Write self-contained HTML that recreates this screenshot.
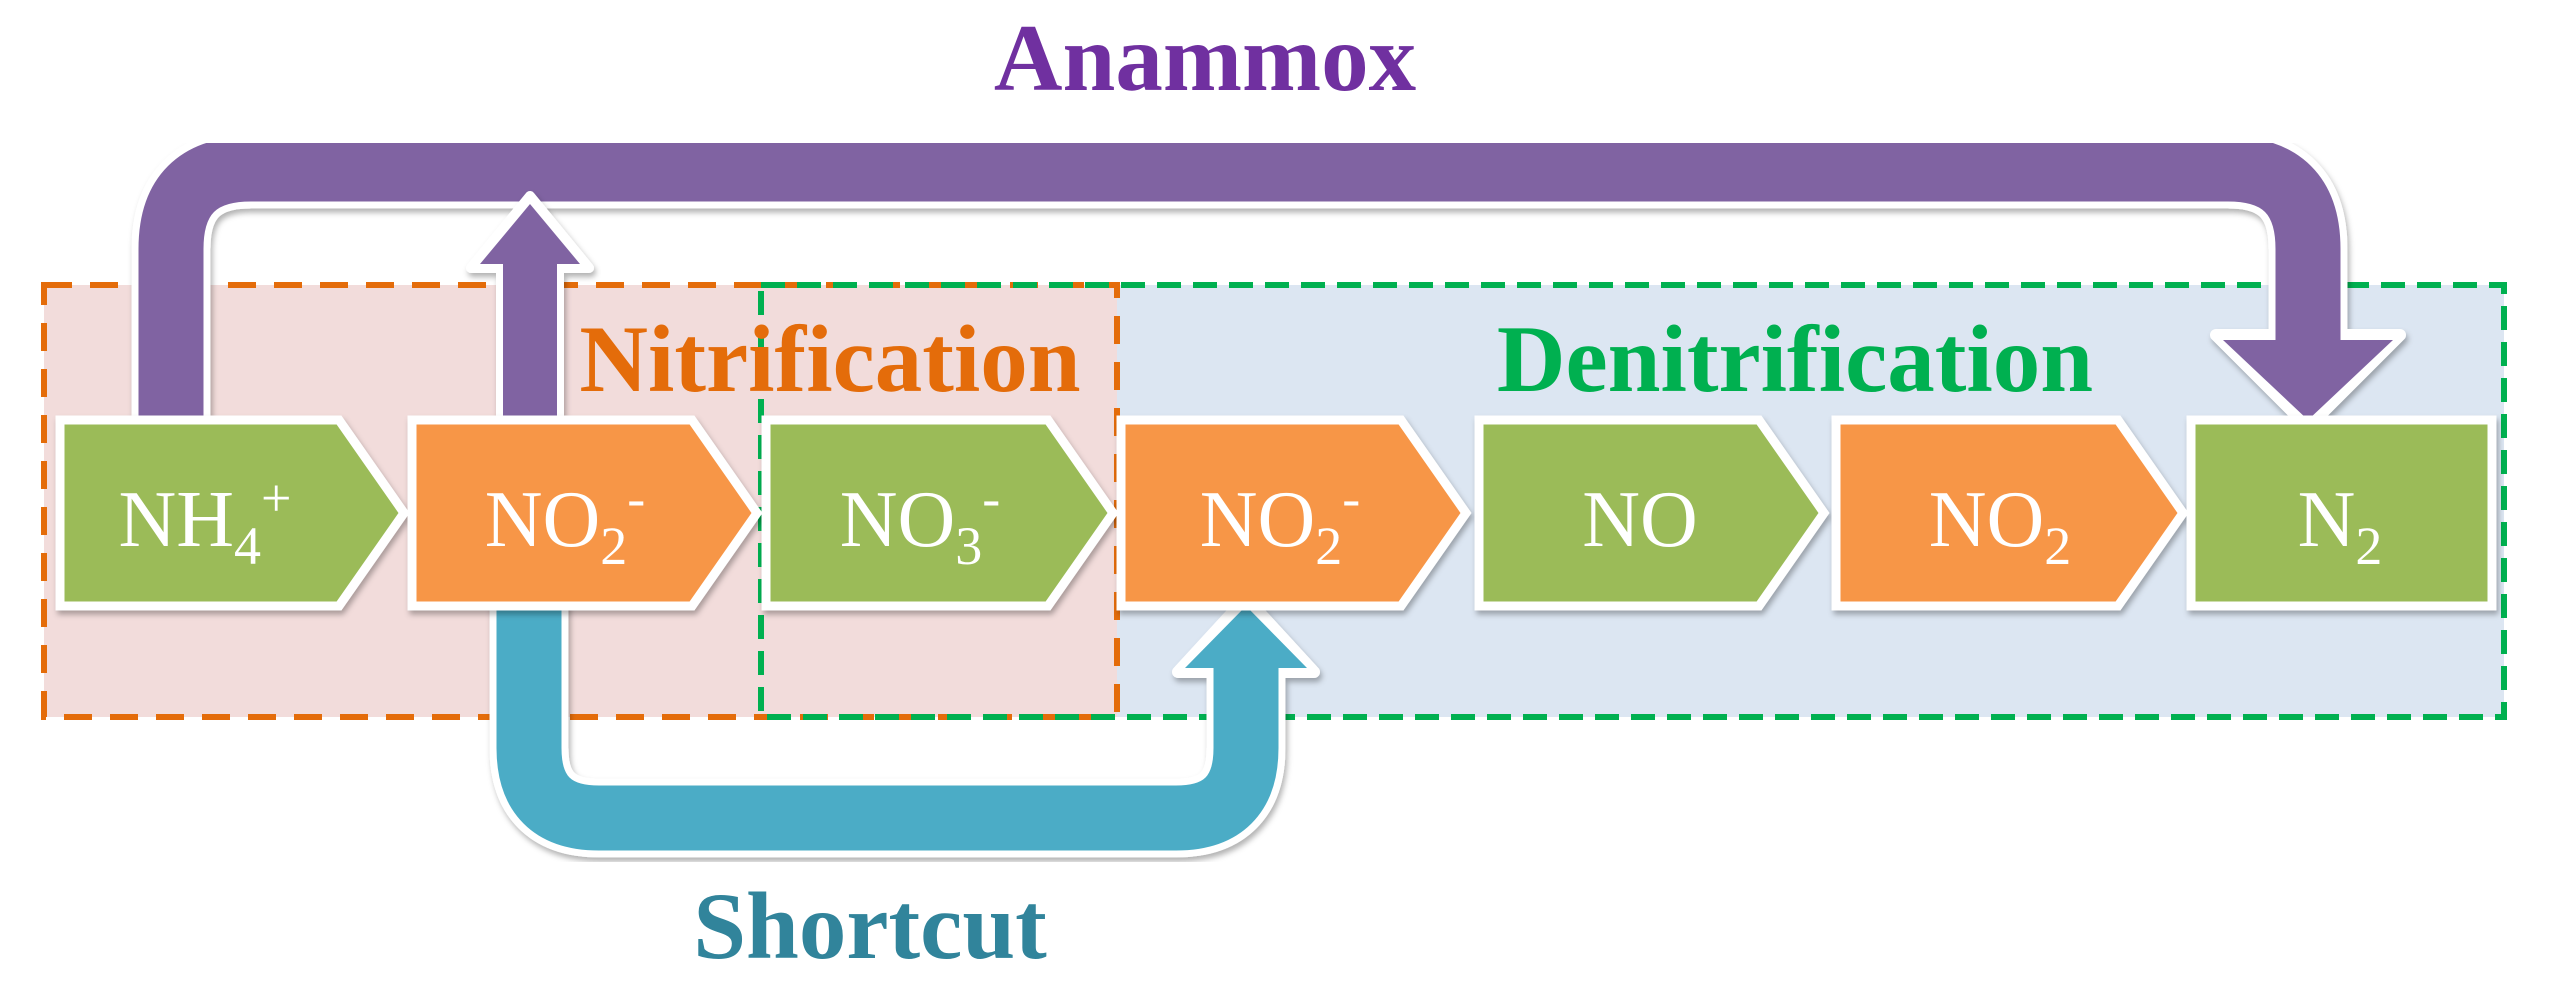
<!DOCTYPE html>
<html><head><meta charset="utf-8"><style>html,body{margin:0;padding:0;background:#fff}svg{display:block}</style></head>
<body>
<svg width="2554" height="999" viewBox="0 0 2554 999" xmlns="http://www.w3.org/2000/svg">
<defs>
<filter id="sh" x="-10%" y="-10%" width="120%" height="130%"><feDropShadow dx="2" dy="4" stdDeviation="3" flood-color="#000" flood-opacity="0.3"/></filter>
</defs>
<!-- background regions -->
<rect x="44" y="285" width="1073" height="432" fill="#F2DCDB"/>
<rect x="1117" y="285" width="1387" height="432" fill="#DCE6F2"/>
<rect x="761" y="285" width="356" height="432" fill="#F2DCDB"/>
<rect x="44" y="285" width="1073" height="432" fill="none" stroke="#E46C0A" stroke-width="6" stroke-dasharray="28,18"/>
<rect x="761" y="285" width="1743" height="432" fill="none" stroke="#00B050" stroke-width="6" stroke-dasharray="24,12"/>

<!-- Anammox arrow -->
<g filter="url(#sh)">
<path d="M171 420 V249 Q171 169 251 169 H2228 Q2308 169 2308 249 V342" fill="none" stroke="#fff" stroke-width="79"/>
<polygon points="2216,335 2400,335 2308,427" fill="#fff" stroke="#fff" stroke-width="12" stroke-linejoin="round"/>
<path d="M171 420 V249 Q171 169 251 169 H2228 Q2308 169 2308 249 V342" fill="none" stroke="#8064A2" stroke-width="65"/>
<polygon points="2223,340 2393,340 2308,420" fill="#8064A2"/>
</g>
<!-- small up arrow -->
<g filter="url(#sh)">
<rect x="496" y="255" width="68" height="170" fill="#fff"/>
<polygon points="471,268 589,268 530,196" fill="#fff" stroke="#fff" stroke-width="10" stroke-linejoin="round"/>
<rect x="503" y="260" width="54" height="160" fill="#8064A2"/>
<polygon points="480,264 580,264 530,204" fill="#8064A2"/>
</g>
<!-- Shortcut arrow -->
<g filter="url(#sh)">
<path d="M529 600 V748 Q529 818 599 818 H1176 Q1246 818 1246 748 V662" fill="none" stroke="#fff" stroke-width="79"/>
<polygon points="1178,672 1314,672 1246,598" fill="#fff" stroke="#fff" stroke-width="12" stroke-linejoin="round"/>
<path d="M529 600 V748 Q529 818 599 818 H1176 Q1246 818 1246 748 V662" fill="none" stroke="#4BACC6" stroke-width="65"/>
<polygon points="1185,668 1307,668 1246,606" fill="#4BACC6"/>
</g>

<!-- Nodes -->
<g stroke="#fff" stroke-width="9" stroke-linejoin="miter" filter="url(#sh)">
<polygon points="60,420 339,420 404,513 339,606 60,606" fill="#9BBB59"/>
<polygon points="412,420 692,420 757,513 692,606 412,606" fill="#F79646"/>
<polygon points="766,420 1048,420 1113,513 1048,606 766,606" fill="#9BBB59"/>
<polygon points="1121,420 1401,420 1466,513 1401,606 1121,606" fill="#F79646"/>
<polygon points="1479,420 1759,420 1824,513 1759,606 1479,606" fill="#9BBB59"/>
<polygon points="1836,420 2118,420 2183,513 2118,606 1836,606" fill="#F79646"/>
<rect x="2191" y="420" width="301" height="186" fill="#9BBB59"/>
</g>

<g font-family="'Liberation Serif', serif" fill="#fff" font-size="80">
<text x="205" y="546" text-anchor="middle">NH<tspan font-size="54" dy="18">4</tspan><tspan font-size="54" dy="-48">+</tspan></text>
<text x="565" y="546" text-anchor="middle">NO<tspan font-size="54" dy="18">2</tspan><tspan font-size="54" dy="-48">-</tspan></text>
<text x="920" y="546" text-anchor="middle">NO<tspan font-size="54" dy="18">3</tspan><tspan font-size="54" dy="-48">-</tspan></text>
<text x="1280" y="546" text-anchor="middle">NO<tspan font-size="54" dy="18">2</tspan><tspan font-size="54" dy="-48">-</tspan></text>
<text x="1640" y="546" text-anchor="middle">NO</text>
<text x="2000" y="546" text-anchor="middle">NO<tspan font-size="54" dy="18">2</tspan></text>
<text x="2340" y="546" text-anchor="middle">N<tspan font-size="54" dy="18">2</tspan></text>
</g>

<g font-family="'Liberation Serif', serif" font-weight="bold" font-size="95">
<text x="1205" y="90" text-anchor="middle" fill="#7030A0">Anammox</text>
<text x="830" y="391" text-anchor="middle" fill="#E46C0A">Nitrification</text>
<text x="1795" y="391" text-anchor="middle" fill="#00B050">Denitrification</text>
<text x="870" y="958" text-anchor="middle" fill="#31849B">Shortcut</text>
</g>
</svg>
</body></html>
